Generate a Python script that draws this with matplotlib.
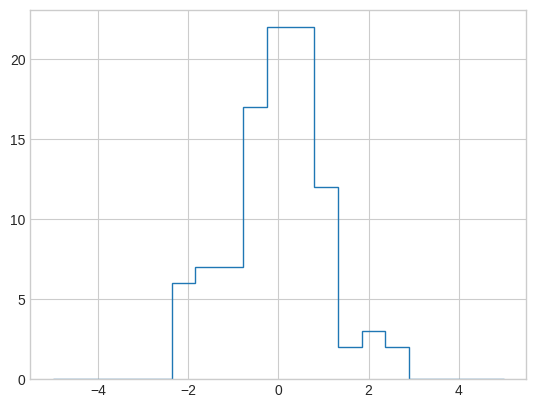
import matplotlib
matplotlib.use("Agg")
import matplotlib.pyplot as plt
import numpy as np

plt.style.use('seaborn-v0_8-whitegrid')

# 19 equal bins spanning -5..5
bin_edges = np.linspace(-5, 5, 20)
bin_counts = [0, 0, 0, 0, 0, 6, 7, 7, 17, 22, 22, 12, 2, 3, 2, 0, 0, 0, 0]

centers = (bin_edges[:-1] + bin_edges[1:]) / 2

fig = plt.figure(figsize=(6.4, 4.8), dpi=100)
plt.hist(centers, bins=bin_edges, weights=bin_counts, histtype='step')
plt.savefig('out.png', bbox_inches='tight')
